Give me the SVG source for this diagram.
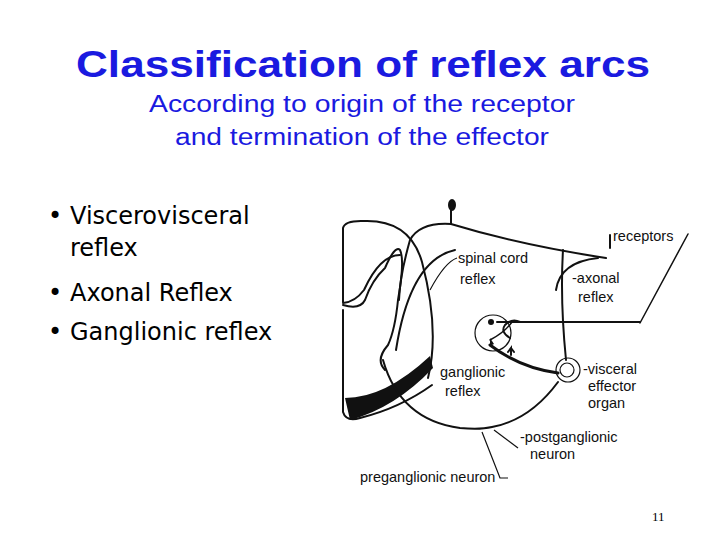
<svg xmlns="http://www.w3.org/2000/svg" width="728" height="546" viewBox="0 0 728 546">
<style>
.t{font-family:"DejaVu Sans",Verdana,sans-serif}
.h{font-family:"Liberation Sans",Arial,sans-serif;fill:#1a1ae0}
.b{font-size:24px;fill:#000}
.lb{font-family:"Liberation Sans",Arial,sans-serif;font-size:14.5px;fill:#111}
.ln{fill:none;stroke:#111;stroke-width:2;stroke-linecap:round}
.th{fill:none;stroke:#111;stroke-width:1.2}
</style>
<rect width="728" height="546" fill="#fff"/>
<g id="title">
<text class="h" x="363" y="77" text-anchor="middle" font-size="37" font-weight="bold" textLength="574" lengthAdjust="spacingAndGlyphs">Classification of reflex arcs</text>
<text class="h" x="362" y="112" text-anchor="middle" font-size="23" textLength="426" lengthAdjust="spacingAndGlyphs">According to origin of the receptor</text>
<text class="h" x="362" y="145" text-anchor="middle" font-size="23" textLength="374" lengthAdjust="spacingAndGlyphs">and termination of the effector</text>
</g>
<g id="bullets" class="t b">
<text x="48" y="224">•</text><text x="70" y="224">Viscerovisceral</text>
<text x="70" y="256">reflex</text>
<text x="48" y="301">•</text><text x="70" y="301">Axonal Reflex</text>
<text x="48" y="340">•</text><text x="70" y="340">Ganglionic reflex</text>
</g>
<g id="spinal-cord">
<path class="ln" d="M343 302 V228 Q345 220 365 221 Q410 220 422 262 Q440 330 428 378"/>
<path class="ln" d="M343 310 V412 Q346 422 360 418 Q400 408 432 385"/>
<path d="M345 398 Q385 398 430 356 L433 368 Q395 408 350 420 Z" fill="#111"/>
<path class="ln" d="M343 305 Q360 310 365 300 Q372 280 385 268 Q395 245 400 250 Q405 260 398 300 Q395 330 388 345 Q375 360 385 370"/>
<path class="ln" d="M343 303 Q355 302 364 290 Q380 255 400 255" stroke-width="1.5"/>
</g>
<g id="neurons" class="ln">
<ellipse cx="452" cy="205" rx="3" ry="5" fill="#111"/>
<path d="M451 210 V224"/>
<path d="M451 224 Q420 222 410 240 Q400 275 399 300"/>
<path d="M451 224 Q520 245 606 258"/>
<path d="M563 250 Q560 300 566 360"/>
<path d="M598 258 Q560 262 556 290"/>
<path d="M455 250 Q410 260 396 350"/>
<path d="M497 322 H640"/>
<path d="M640 323 L688 234" stroke-width="1.5"/>
<path d="M383 360 Q400 420 460 428 Q480 430 492 427 Q530 420 558 382"/>
<path d="M490 345 Q520 368 558 373" stroke-width="3"/>
<path d="M490 340 Q505 332 512 322" stroke-width="1.5"/>
</g>
<g id="ganglion">
<circle cx="493" cy="333" r="18" class="th"/>
<path d="M510 338 Q500 332 505 325 Q512 318 520 322" class="ln"/>
<circle cx="491" cy="322" r="3" fill="#111"/>
<path d="M490 338 l4 6 -4 2z" fill="#111"/>
<path d="M511 355 V348 l-3 4 M511 348 l3 4" class="ln" stroke-width="1.5"/>
</g>
<g id="effector-organ">
<circle cx="568" cy="370" r="12" class="th" stroke-width="1.8"/>
<circle cx="567" cy="370" r="7" class="th"/>
</g>
<g id="labels">
<text class="lb" x="458" y="263">spinal cord</text>
<text class="lb" x="460" y="284">reflex</text>
<path class="th" d="M457 258 Q445 262 430 290"/>
<text class="lb" x="572" y="283">-axonal</text>
<text class="lb" x="578" y="302">reflex</text>
<text class="lb" x="613" y="241">receptors</text>
<path class="ln" d="M610 235 V248"/>
<text class="lb" x="440" y="377">ganglionic</text>
<text class="lb" x="445" y="396">reflex</text>
<text class="lb" x="583" y="374">-visceral</text>
<text class="lb" x="588" y="391">effector</text>
<text class="lb" x="588" y="408">organ</text>
<path class="th" d="M494 430 L518 448"/>
<text class="lb" x="520" y="442">-postganglionic</text>
<text class="lb" x="530" y="459">neuron</text>
<path class="th" d="M482 432 L500 478 H508"/>
<text class="lb" x="360" y="482">preganglionic neuron</text>
</g>
<text x="652" y="521" font-family="Liberation Serif,serif" font-size="13">11</text>
</svg>
